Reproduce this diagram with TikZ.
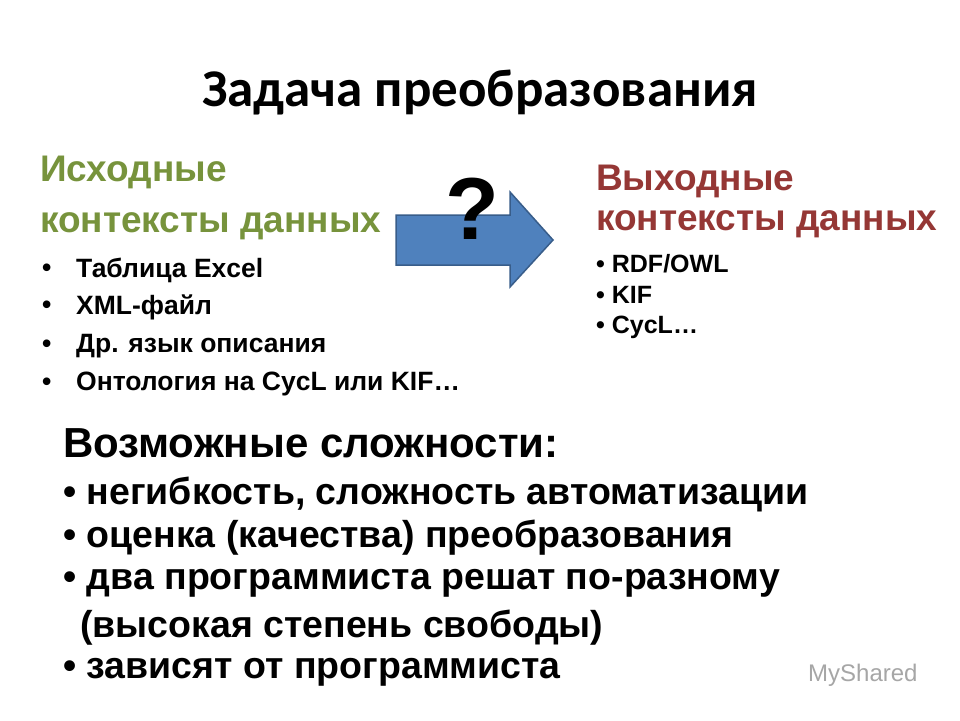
\documentclass[tikz,border=0pt]{standalone}
\usepackage{fontspec}
\setmainfont{Liberation Sans}
\newfontfamily\titlefont{Carlito}
\definecolor{grn}{HTML}{77933C}
\definecolor{rd}{HTML}{953735}
\definecolor{arrowblue}{HTML}{4F81BD}
\definecolor{arrowedge}{HTML}{385D8A}
\begin{document}
\begin{tikzpicture}[x=1pt,y=-1pt,
  txt/.style={anchor=west,inner sep=0pt,font=\bfseries},
  lst/.style={txt,font=\bfseries\fontsize{26.5}{30}\selectfont},
  rlst/.style={txt,font=\bfseries\fontsize{25}{30}\selectfont},
  hdr/.style={txt,font=\bfseries\fontsize{37}{40}\selectfont},
  big/.style={txt,font=\bfseries\fontsize{37.5}{40}\selectfont}]
\useasboundingbox[fill=white] (0,0) rectangle (960,720);
\node[inner sep=0pt,font=\titlefont\bfseries\fontsize{53}{58}\selectfont] (title) at (480,93) {Задача преобразования};
\node[hdr,text=grn] (src1) at (40,172) {Исходные};
\node[hdr,text=grn] (src2) at (40,226) {контексты данных};
\foreach \y/\t [count=\i] in {270/{Таблица Excel},307/{XML-файл},346/{Др. язык описания},384/{Онтология на CycL или KIF…}}{
  \node[lst] (bl\i) at (42,\y) {•};
  \node[lst] (li\i) at (76,\y) {\t};
}
\draw[fill=arrowblue,draw=arrowedge,line width=1.5pt] (396,215) -- (510,215) -- (510,192) -- (553,240) -- (510,287) -- (510,265) -- (396,265) -- cycle;
\node[inner sep=0pt,font=\bfseries\fontsize{88}{90}\selectfont] (q) at (472,209) {?};
\node[hdr,text=rd] (dst1) at (596,181) {Выходные};
\node[hdr,text=rd] (dst2) at (596,224) {контексты данных};
\foreach \y/\t [count=\i] in {264/{RDF/OWL},295/{KIF},327/{CycL…}}{
  \node[rlst] (ri\i) at (596,\y) {• \t};
}
\node[big,font=\bfseries\fontsize{42}{46}\selectfont] (hd) at (63,443) {Возможные сложности:};
\node[big] (b1) at (63,494) {• негибкость, сложность автоматизации};
\node[big] (b2) at (63,538) {• оценка (качества) преобразования};
\node[big] (b3) at (63,583) {• два программиста решат по-разному};
\node[big] (b3b) at (80,628) {(высокая степень свободы)};
\node[big] (b4) at (63,672) {• зависят от программиста};
\node[txt,text=gray!70,font=\fontsize{24}{26}\selectfont] (wm) at (808,675) {MyShared};
\end{tikzpicture}
\end{document}
